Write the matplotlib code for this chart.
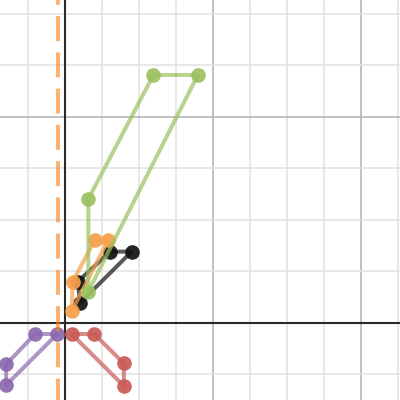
import matplotlib
matplotlib.use("Agg")
import matplotlib.pyplot as plt
import numpy as np

# Quadrilateral vertices (A -> B -> C -> D -> A), in grid units
black_x = [0.405, 0.35, 1.22, 1.80]
black_y = [0.384, 0.80, 1.38, 1.38]

orange_x = [0.18, 0.21, 0.81, 1.17]
orange_y = [0.22, 0.80, 1.61, 1.61]

green_x = [0.63, 0.63, 2.39, 3.59]
green_y = [0.605, 2.40, 4.81, 4.81]

purple_x = [-1.59, -1.59, -0.81, -0.21]
purple_y = [-1.21, -0.81, -0.22, -0.22]

red_x = [1.59, 1.59, 0.79, 0.18]
red_y = [-1.23, -0.79, -0.22, -0.22]

dashed_x = -0.20

series = [
    (black_x, black_y, "#111111"),
    (orange_x, orange_y, "#f7a04c"),
    (green_x, green_y, "#9cc05e"),
    (purple_x, purple_y, "#8a68ae"),
    (red_x, red_y, "#c85a56"),
]

fig = plt.figure(figsize=(4, 4), dpi=100)
ax = fig.add_axes([0, 0, 1, 1])
xmin, xmax = -65 / 37, 335 / 37
ymin, ymax = (322.7 - 400) / 51.5, 322.7 / 51.5
ax.set_xlim(xmin, xmax)
ax.set_ylim(ymin, ymax)

# grid
for gx in np.arange(np.ceil(xmin), xmax + 0.01, 1):
    if gx == 0:
        continue
    major = int(round(gx)) % 4 == 0
    ax.axvline(gx, color="#b0b0b0" if major else "#e2e2e2", lw=1.1, zorder=0)
for gy in np.arange(np.ceil(ymin), ymax + 0.01, 1):
    if gy == 0:
        continue
    major = int(round(gy)) % 4 == 0
    ax.axhline(gy, color="#b0b0b0" if major else "#e2e2e2", lw=1.1, zorder=0)
ax.axvline(0, color="#2a2a2a", lw=1.5, zorder=1)
ax.axhline(0, color="#2a2a2a", lw=1.5, zorder=1)

z = 2
for xs, ys, c in series:
    ax.plot(xs + xs[:1], ys + ys[:1], color=c, lw=2.9, alpha=0.7,
            solid_capstyle="round", solid_joinstyle="round", zorder=z)
    ax.plot(xs, ys, "o", color=c, ms=10.5, mew=0, alpha=0.92, zorder=z + 0.5)
    z += 1

ax.plot([dashed_x, dashed_x], [ymax, ymin], color="#fa7e19", alpha=0.6,
        lw=2.9, linestyle=(5, (6.2, 2.8)), dash_capstyle="butt", zorder=20)

ax.set_xticks([])
ax.set_yticks([])
for s in ax.spines.values():
    s.set_visible(False)

fig.savefig("out.png", dpi=100)
